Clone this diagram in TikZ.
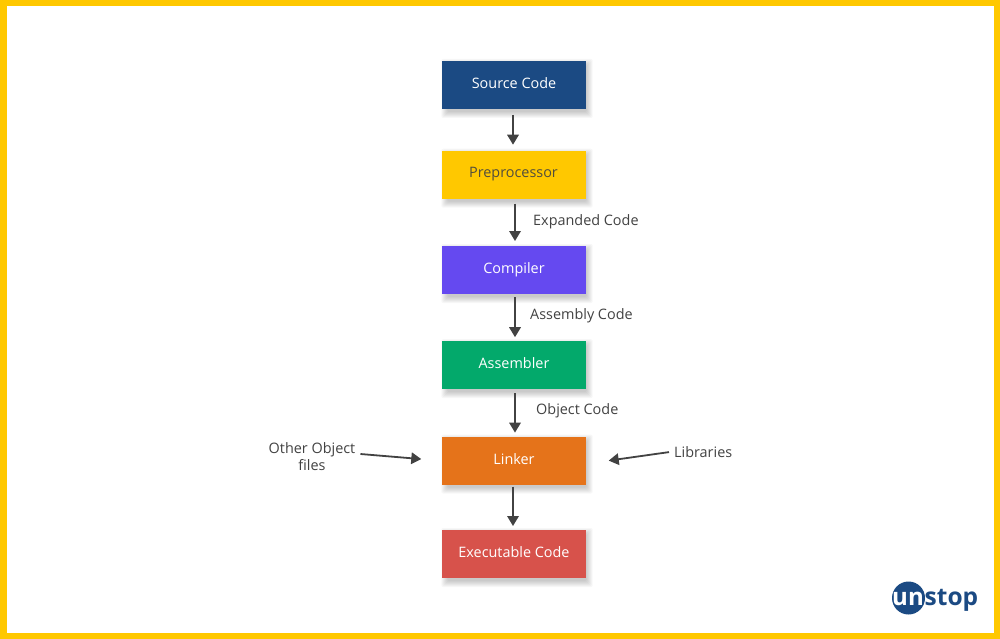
\documentclass[tikz,border=0pt]{standalone}
\usepackage{fontspec}
\setmainfont{Open Sans}
\usetikzlibrary{arrows.meta}
\definecolor{framey}{HTML}{FFC800}
\definecolor{navy}{HTML}{1B4A83}
\definecolor{purp}{HTML}{6549F0}
\definecolor{grn}{HTML}{03A96B}
\definecolor{org}{HTML}{E5731A}
\definecolor{redd}{HTML}{D7524B}
\definecolor{ink}{HTML}{424242}
\tikzset{
  x=1pt,y=-1pt,
  flowbox/.style={minimum width=143pt,minimum height=47.6pt,inner sep=0pt},
  boxtext/.style={anchor=base,font=\fontsize{14.4}{16}\selectfont,text=white,inner sep=0pt},
  lbl/.style={font=\fontsize{14.4}{17}\selectfont,text=ink,inner sep=0pt,align=center},
  conn/.style={draw=ink,line width=1.8pt,-{Triangle[length=10pt,width=11.5pt]}},
}
\newcommand{\softshadow}[1]{%
  \foreach \g in {5,4,3,2,1,0,-1}{
    \fill[black,opacity=0.03,rounded corners=2pt]
      ([xshift=-\g pt+4pt,yshift=-\g pt-4pt]#1.south west) rectangle ([xshift=\g pt+2pt,yshift=\g pt-3pt]#1.north east);
  }}
\begin{document}
\begin{tikzpicture}
\useasboundingbox (0,0) rectangle (1000,639);
\fill[white] (0,0) rectangle (1000,639);
\draw[framey,line width=6.5pt] (3.25,3.25) rectangle (996.75,635.75);
\path
  coordinate (src) at (514,85)
  coordinate (pre) at (514,174.7)
  coordinate (cmp) at (514,270)
  coordinate (asm) at (514,365.2)
  coordinate (lnk) at (514,460.6)
  coordinate (exe) at (514,554);
\path
  node[flowbox] (src) at (src) {}
  node[flowbox] (pre) at (pre) {}
  node[flowbox] (cmp) at (cmp) {}
  node[flowbox] (asm) at (asm) {}
  node[flowbox] (lnk) at (lnk) {}
  node[flowbox] (exe) at (exe) {};
\foreach \n in {src,pre,cmp,asm,lnk,exe}{\softshadow{\n}}
\fill[navy] (src.south west) rectangle (src.north east);
\fill[framey] (pre.south west) rectangle (pre.north east);
\fill[purp] (cmp.south west) rectangle (cmp.north east);
\fill[grn] (asm.south west) rectangle (asm.north east);
\fill[org] (lnk.south west) rectangle (lnk.north east);
\fill[redd] (exe.south west) rectangle (exe.north east);
\node[boxtext] (tsrc) at (514,88.5) {Source Code};
\node[boxtext,text=ink!92!framey] (tpre) at (513.5,178) {Preprocessor};
\node[boxtext] (tcmp) at (514,273) {Compiler};
\node[boxtext] (tasm) at (514,368.5) {Assembler};
\node[boxtext] (tlnk) at (514,464) {Linker};
\node[boxtext] (texe) at (514,557) {Executable Code};
\node[lbl,anchor=base west] (l1) at (533,225.5) {Expanded Code};
\node[lbl,anchor=base west] (l2) at (530,319.5) {Assembly Code};
\node[lbl,anchor=base west] (l3) at (536,414.5) {Object Code};
\node[lbl] (oth) at (312,457) {Other Object\\files};
\node[lbl,anchor=base west] (lib) at (674,457) {Libraries};
\draw[conn,shorten <=6pt,shorten >=6pt] ([xshift=-1pt]src.south) -- ([xshift=-1pt]pre.north);
\draw[conn,shorten <=5pt,shorten >=5pt] ([xshift=1pt]pre.south) -- ([xshift=1pt]cmp.north);
\draw[conn,shorten <=3pt,shorten >=4pt] ([xshift=1pt]cmp.south) -- ([xshift=1pt]asm.north);
\draw[conn,shorten <=4pt,shorten >=4pt] ([xshift=1pt]asm.south) -- ([xshift=1pt]lnk.north);
\draw[conn,shorten <=2pt,shorten >=4pt] ([xshift=-1pt]lnk.south) -- ([xshift=-1pt]exe.north);
\draw[conn] ([xshift=5pt,yshift=3pt]oth.east) -- ([xshift=-21pt,yshift=1.5pt]lnk.west);
\draw[conn] ([xshift=-5pt,yshift=-.5pt]lib.west) -- ([xshift=23pt]lnk.east);
\node[circle,fill=navy,minimum size=33pt,inner sep=0pt] (logo) at (908.5,598) {};
\node[anchor=base,inner sep=0pt,text=white,font=\fontsize{24}{24}\selectfont\bfseries] (un) at (908,605.5) {un};
\node[anchor=base west,inner sep=0pt,text=navy,font=\fontsize{24.5}{24}\selectfont\bfseries] (stp) at (924.5,605.5) {stop};
\end{tikzpicture}
\end{document}
